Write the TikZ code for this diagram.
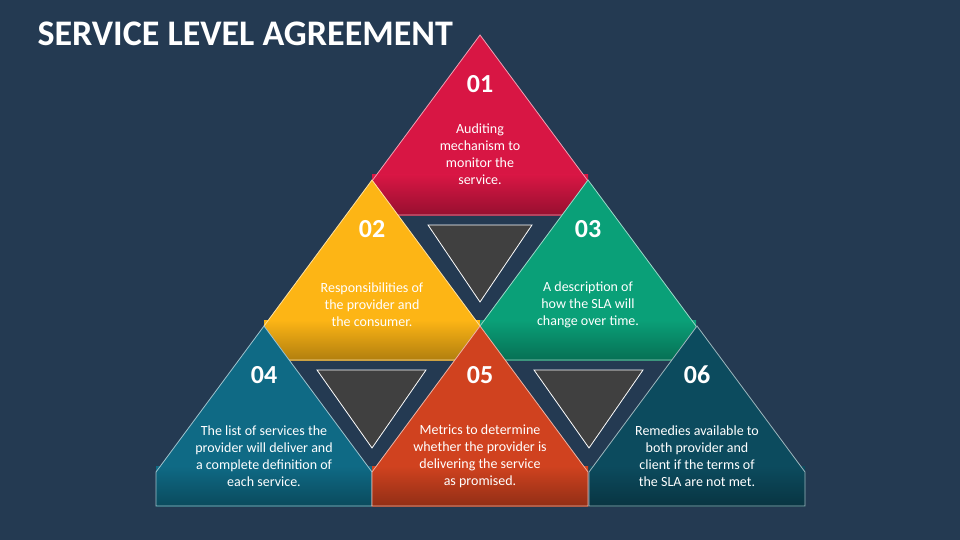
\documentclass[tikz,border=0pt]{standalone}
\usepackage{fontspec}
\setmainfont{Carlito}
\usetikzlibrary{positioning}
\definecolor{bg}{HTML}{243A52}
\definecolor{cone}{HTML}{D81644}
\definecolor{ctwo}{HTML}{FDB515}
\definecolor{cthree}{HTML}{0AA078}
\definecolor{cfour}{HTML}{0F6A85}
\definecolor{cfive}{HTML}{D0421F}
\definecolor{csix}{HTML}{0C4B5E}
\definecolor{hole}{HTML}{404040}
\tikzset{
  num/.style={text=white,font=\bfseries\fontsize{26}{26}\selectfont},
  desc/.style={text=white,align=center,font=\fontsize{14}{17}\selectfont},
  hole/.style={fill=hole,draw=white,line width=0.8pt}
}
% piece: centre x, top y, colour
\newcommand{\piece}[3]{%
  \fill[#3] (#1,#2) -- (#1+108,#2+146) -- (#1+108,#2+180) -- (#1-108,#2+180) -- (#1-108,#2+146) -- cycle;
  \shade[top color=#3,bottom color=#3!70!black] (#1-108,#2+140) rectangle (#1+108,#2+180);
  \draw[#3!40!white,line width=0.8pt] (#1,#2) -- (#1+108,#2+146) -- (#1+108,#2+180) -- (#1-108,#2+180) -- (#1-108,#2+146) -- cycle;
}
\begin{document}
\begin{tikzpicture}[x=1pt,y=-1pt]
  \fill[bg] (0,0) rectangle (960,540);
  \useasboundingbox (0,0) rectangle (960,540);
  \node[anchor=west,text=white,font=\bfseries\fontsize{36}{36}\selectfont] (title) at (34,34) {SERVICE LEVEL AGREEMENT};

  \piece{480}{35}{cone}
  \piece{372}{180}{ctwo}
  \piece{588}{180}{cthree}
  \piece{264}{326}{cfour}
  \piece{480}{326}{cfive}
  \piece{697}{326}{csix}

  \path[hole] (428,225) -- (532,225) -- (480,302) -- cycle;
  \path[hole] (317,370) -- (426,370) -- (372,448) -- cycle;
  \path[hole] (534,370) -- (643,370) -- (589,448) -- cycle;

  \foreach \cx/\ty/\dy/\n/\t in {
      480/35/119/01/{Auditing\\mechanism to\\monitor the\\service.},
      372/180/125/02/{Responsibilities of\\the provider and\\the consumer.},
      588/180/125/03/{A description of\\how the SLA will\\change over time.},
      264/326/130/04/{The list of services the\\provider will deliver and\\a complete definition of\\each service.},
      480/326/130/05/{Metrics to determine\\whether the provider is\\delivering the service\\as promised.},
      697/326/130/06/{Remedies available to\\both provider and\\client if the terms of\\the SLA are not met.}} {
    \node[num] (n\n) at (\cx,\ty+49) {\n};
    \node[desc] (t\n) at (\cx,\ty+\dy) {\t};
  }
\end{tikzpicture}
\end{document}
